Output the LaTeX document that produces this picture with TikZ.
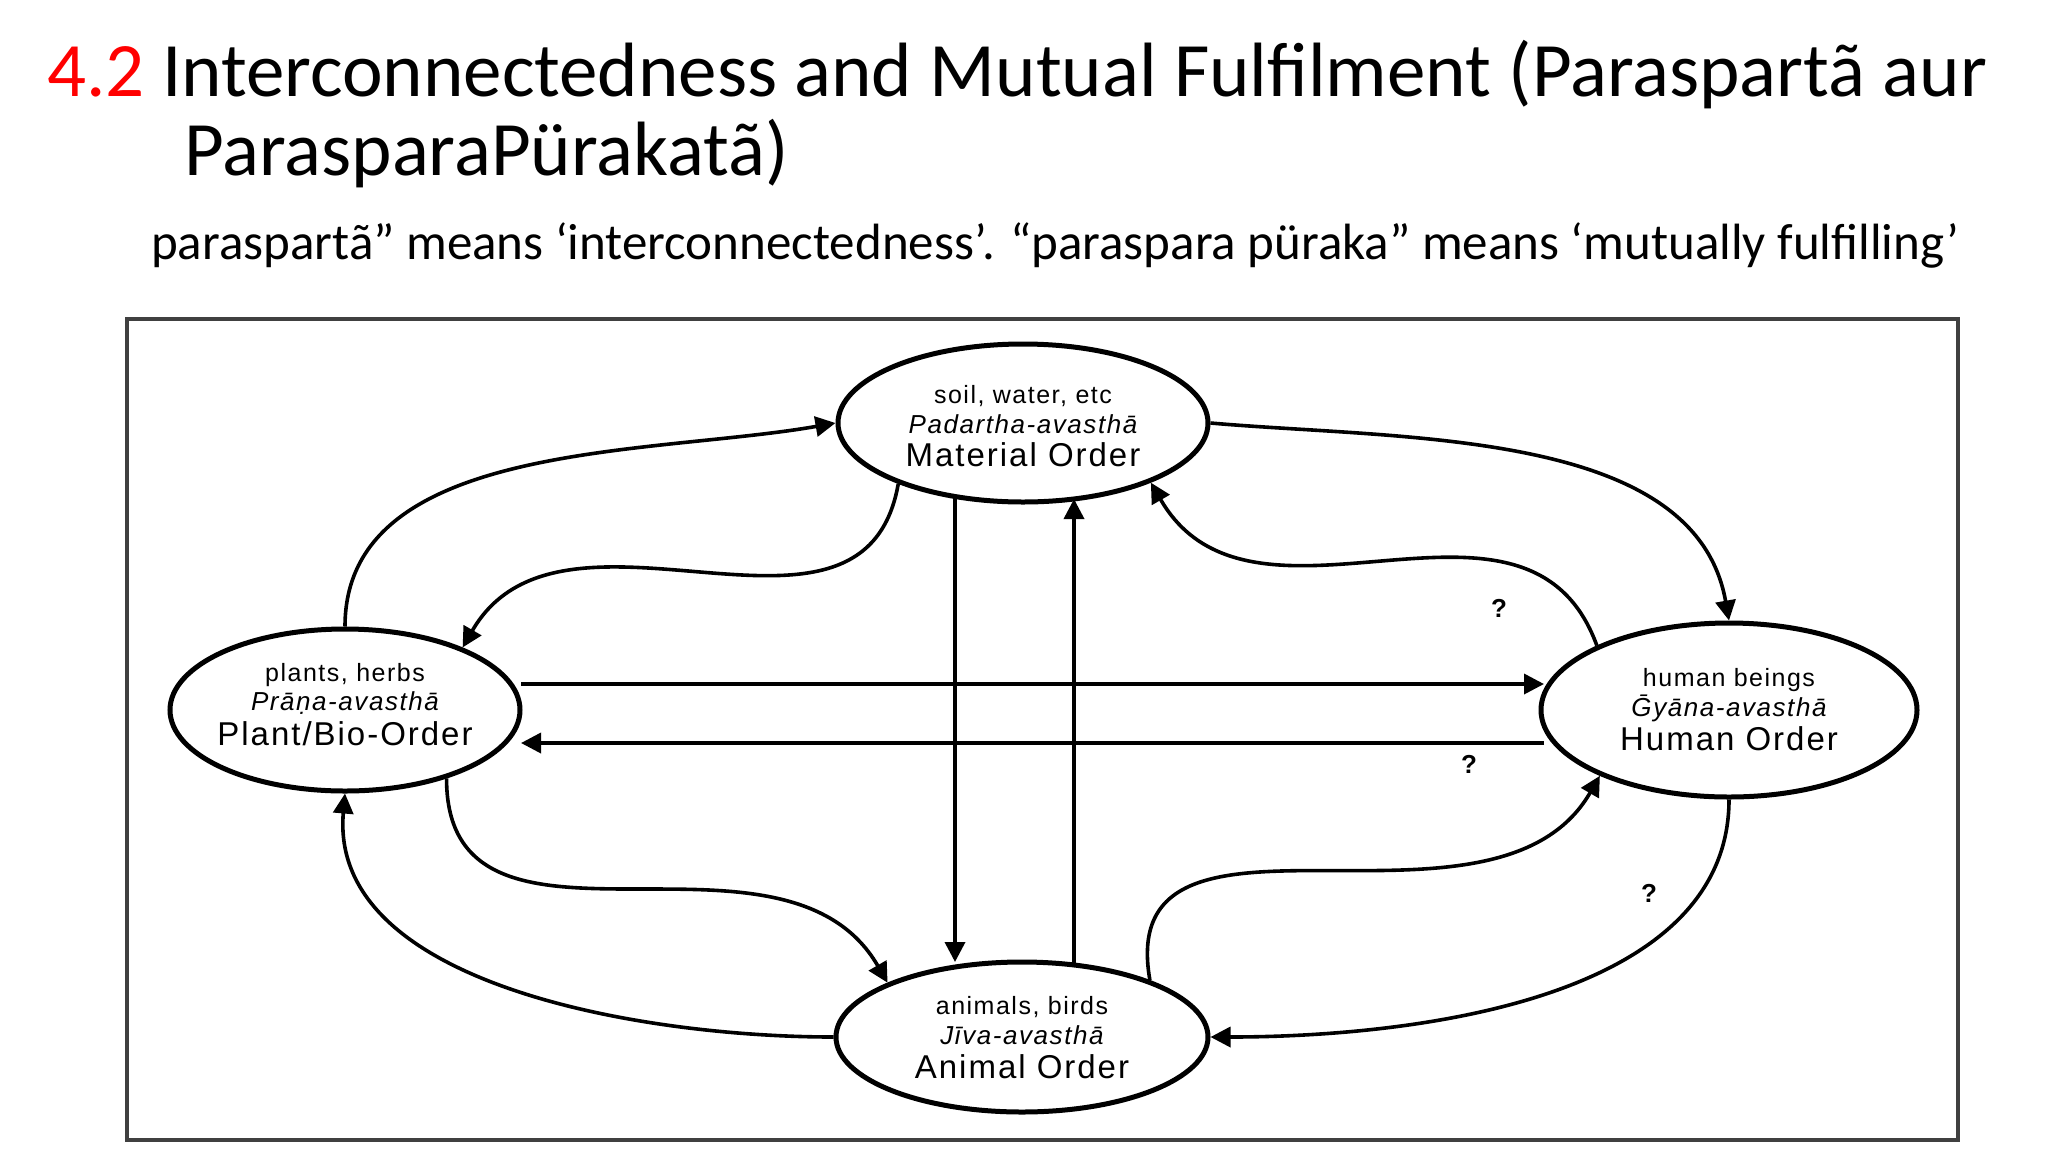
\documentclass[tikz,border=0pt]{standalone}
\usepackage{fontspec}
\setmainfont{Carlito}
\newfontfamily\arialf{Liberation Sans}[LetterSpace=6]
\usetikzlibrary{arrows.meta,shapes.geometric}
\begin{document}
\begin{tikzpicture}[x=1pt,y=-1pt,
  ord/.style={ellipse,draw,line width=5pt,inner sep=0pt},
  nm/.style={font=\arialf\fontsize{33}{36}\selectfont,inner sep=0pt},
  it/.style={font=\arialf\itshape\fontsize{26}{29}\selectfont,inner sep=0pt},
  ex/.style={font=\arialf\fontsize{25}{28}\selectfont,inner sep=0pt},
  con/.style={line width=3.6pt,-{Triangle[length=20pt,width=20pt]}},
  q/.style={font=\arialf\bfseries\fontsize{26}{28}\selectfont}]
\fill[white] (0,0) rectangle (2048,1152);
\useasboundingbox (0,0) rectangle (2048,1152);
\node[anchor=base west,inner sep=0pt,font=\fontsize{77}{80}\selectfont] (t1) at (47,96) {\textcolor{red}{4.2} Interconnectedness and Mutual Fulfilment (Paraspartã aur};
\node[anchor=base west,inner sep=0pt,font=\fontsize{77}{80}\selectfont] (t2) at (184,175) {ParasparaPürakatã)};
\node[anchor=base west,inner sep=0pt,font=\fontsize{51}{53}\selectfont] (st) at (151,259) {paraspartã” means ‘interconnectedness’. “paraspara püraka” means ‘mutually fulfilling’};
\draw[line width=3.5pt,black!75] (127,319) rectangle (1958,1140);
\node[ord,minimum width=370pt,minimum height=158pt] (M) at (1023,423) {};
\node[nm] (M1) at ([yshift=-32pt]M.center) {Material Order};
\node[it] (M2) at ([yshift=-1pt]M.center) {Padartha-avasthā};
\node[ex] (M3) at ([yshift=27pt]M.center) {soil, water, etc};
\node[ord,minimum width=350pt,minimum height=162pt] (P) at (345,710) {};
\node[nm] (P1) at ([yshift=-24pt]P.center) {Plant/Bio-Order};
\node[it] (P2) at ([yshift=7pt]P.center) {Prāṇa-avasthā};
\node[ex] (P3) at ([yshift=35pt]P.center) {plants, herbs};
\node[ord,minimum width=376pt,minimum height=174pt] (H) at (1729,710) {};
\node[nm] (H1) at ([yshift=-29pt]H.center) {Human Order};
\node[it] (H2) at ([yshift=2pt]H.center) {Ḡyāna-avasthā};
\node[ex] (H3) at ([yshift=30pt]H.center) {human beings};
\node[ord,minimum width=372pt,minimum height=150pt] (A) at (1022,1037) {};
\node[nm] (A1) at ([yshift=-30pt]A.center) {Animal Order};
\node[it] (A2) at ([yshift=2pt]A.center) {Jīva-avasthā};
\node[ex] (A3) at ([yshift=30pt]A.center) {animals, birds};
% curves
\draw[con] (P.north) to[out=90,in=190,looseness=0.9] (M.west);
\draw[con] (M.-154) to[out=-100,in=60,looseness=1.1] (P.28);
\draw[con] (M.east) to[out=-5,in=100,looseness=0.9] (H.north);
\draw[con] (H.154) to[out=110,in=-60,looseness=1.1] (M.-25);
\draw[con] (P.-34) to[out=-90,in=120,looseness=1.1] (A.158);
\draw[con] (A.west) to[out=180,in=-95,looseness=0.9] (P.south);
\draw[con] (A.24) to[out=100,in=-120,looseness=1.1] (H.-153);
\draw[con] (H.south) to[out=-90,in=0,looseness=0.9] (A.east);
% straights
\coordinate (pa) at (521,684); \coordinate (ha) at (1544,684);
\coordinate (pb) at (521,743); \coordinate (hb) at (1544,743);
\draw[con] (pa) -- (ha);
\draw[con] (hb) -- (pb);
\coordinate (m1) at (955,497); \coordinate (a1) at (955,962);
\coordinate (m2) at (1074,499); \coordinate (a2) at (1074,965);
\draw[con] (m1) -- (a1);
\draw[con] (a2) -- (m2);
\node[q] (q1) at (1499,608) {?};
\node[q] (q2) at (1469,764) {?};
\node[q] (q3) at (1649,893) {?};
\end{tikzpicture}
\end{document}
